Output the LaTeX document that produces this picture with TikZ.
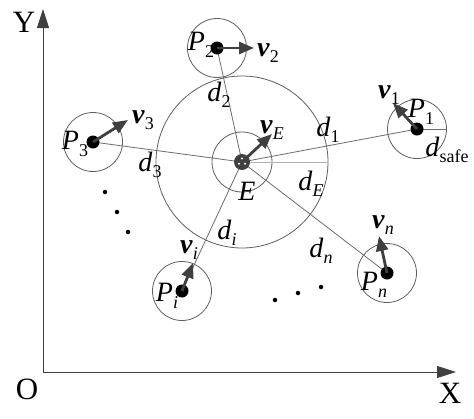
\documentclass[tikz,border=0pt]{standalone}
\usepackage{fontspec}
\setmainfont{Liberation Serif}
\usetikzlibrary{arrows.meta,positioning}

\newcommand{\sym}[2]{#1\raisebox{-0.5ex}{\fontsize{18}{18}\selectfont #2}}
\newcommand{\vv}{\textbf{\textit{v}}}

\tikzset{
  link/.style={draw=gray!85!black,line width=0.8pt},
  zone/.style={draw=gray!75!black,line width=0.8pt},
  dot/.style={circle,fill=black,inner sep=0pt,minimum size=13pt},
  vel/.style={draw=black!75,line width=2.8pt,-{Triangle[length=15pt,width=12pt]}},
  axis/.style={draw=gray!85!black,line width=0.9pt,-{Triangle[length=19pt,width=12pt]},black!75},
  lab/.style={font=\fontsize{28}{30}\selectfont,inner sep=0pt},
  big/.style={font=\fontsize{31}{33}\selectfont,inner sep=0pt},
  crumb/.style={circle,fill=black,inner sep=0pt,minimum size=4.5pt}
}

\begin{document}
\begin{tikzpicture}[x=1pt,y=-1pt]
  \useasboundingbox[fill=white] (0,0) rectangle (474,418);

  % axes
  \coordinate (O) at (43,372);
  \coordinate (Ytip) at (43,9);
  \coordinate (Xtip) at (456,372);
  \draw[axis] (O) -- (Ytip);
  \draw[axis] (O) -- (Xtip);
  \node[big] (ylab) at (24,22) {Y};
  \node[big] (olab) at (27,389) {O};
  \node[big] (xlab) at (450,393) {X};

  % evader and obstacles
  \coordinate (E) at (242,162);
  \coordinate (P1) at (417,129);
  \coordinate (P2) at (217,48);
  \coordinate (P3) at (93,142);
  \coordinate (Pi) at (182,291);
  \coordinate (Pn) at (387,273);

  \draw[zone] (E) circle[radius=86];
  \draw[zone] (E) circle[radius=30];
  \foreach \p in {P1,P2,P3,Pi,Pn}
    \draw[zone] (\p) circle[radius=29.5];

  % distances
  \foreach \p in {P1,P2,P3,Pi,Pn}
    \draw[link] (E) -- (\p);
  \coordinate (dEend) at (328,162);
  \draw[link,draw=gray!60] (E) -- (dEend);
  \coordinate (dsend) at (447,129);
  \draw[link] (P1) -- (dsend);

  % bodies
  \foreach \p in {P1,P2,P3,Pi,Pn}
    \node[dot] (d\p) at (\p) {};
  \node[circle,fill=black!75,inner sep=0pt,minimum size=16pt] (dE) at (E) {};
  \foreach \a in {30,150,270}
    \fill[white] (E) ++(\a:3.5) circle[radius=1.2];

  % velocities
  \coordinate (vEtip) at (272,134);
  \coordinate (v1tip) at (393,103);
  \coordinate (v2tip) at (254,48);
  \coordinate (v3tip) at (128,120);
  \coordinate (vitip) at (193,263);
  \coordinate (vntip) at (379,236);
  \draw[vel] (E) -- (vEtip);
  \draw[vel] (P1) -- (v1tip);
  \draw[vel] (P2) -- (v2tip);
  \draw[vel] (P3) -- (v3tip);
  \draw[vel] (Pi) -- (vitip);
  \draw[vel] (Pn) -- (vntip);

  % labels
  \node[lab] (lP1) at (421,112) {\sym{\textit{P}}{1}};
  \node[lab] (lP2) at (201,45) {\sym{\textit{P}}{2}};
  \node[lab] (lP3) at (75,144) {\sym{\textit{P}}{3}};
  \node[lab] (lPi) at (167,296) {\sym{\textit{P}}{\textit{i}}};
  \node[lab] (lPn) at (374,285) {\sym{\textit{P}}{\textit{n}}};
  \node[lab] (lE) at (247,191) {\textit{E}};

  \node[lab] (lvE) at (272,130) {\sym{\vv}{\textit{E}}};
  \node[lab] (lv1) at (389,95) {\sym{\vv}{1}};
  \node[lab] (lv2) at (268,53) {\sym{\vv}{2}};
  \node[lab] (lv3) at (143,120) {\sym{\vv}{3}};
  \node[lab] (lvi) at (189,250) {\sym{\vv}{\textit{i}}};
  \node[lab] (lvn) at (383,225) {\sym{\vv}{\textit{n}}};

  \node[lab] (ld1) at (328,130) {\sym{\textit{d}}{1}};
  \node[lab] (ld2) at (219,95) {\sym{\textit{d}}{2}};
  \node[lab] (ld3) at (150,165) {\sym{\textit{d}}{3}};
  \node[lab] (ldi) at (227,233) {\sym{\textit{d}}{\textit{i}}};
  \node[lab] (ldn) at (321,251) {\sym{\textit{d}}{\textit{n}}};
  \node[lab] (ldE) at (311,184) {\sym{\textit{d}}{\textit{E}}};
  \node[lab] (lds) at (447,150) {\sym{\textit{d}}{safe}};

  % further obstacles
  \foreach \x/\y in {105/192,117/212,128/232,275/300,298/293,321/287}
    \node[crumb] at (\x,\y) {};
\end{tikzpicture}
\end{document}
